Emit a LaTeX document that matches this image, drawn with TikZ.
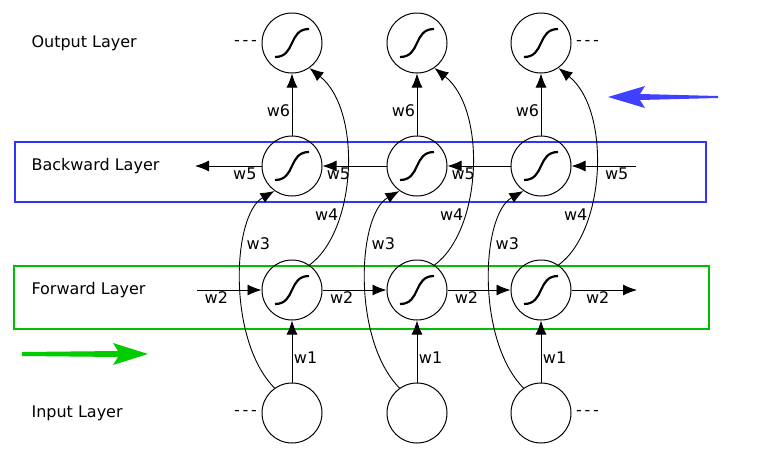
\documentclass[tikz,border=0pt]{standalone}
\usepackage{fontspec}
\setmainfont{DejaVu Sans}
\usetikzlibrary{arrows.meta}
\begin{document}
\begin{tikzpicture}[x=1pt,y=-1pt,
  neuron/.style={circle,draw,line width=1pt,minimum size=60pt,inner sep=0pt},
  arr/.style={line width=0.9pt,-{Latex[length=14pt,width=11pt]}},
  lbl/.style={font=\fontsize{16}{18}\selectfont},
  wl/.style={font=\fontsize{16}{18}\selectfont,inner sep=1.5pt},
  sig/.pic={\draw[line width=2.2pt] (-17,14) .. controls (4,14) and (-4,-14) .. (17,-14);}]
\useasboundingbox (0,0) rectangle (764,456);
\fill[white] (0,0) rectangle (764,456);
\draw[blue!80!white,line width=1.4pt] (15,142) rectangle (706,202);
\draw[green!75!black,line width=1.4pt] (14,266) rectangle (709,329);
\node[lbl,anchor=west] (tO) at (28,43) {Output Layer};
\node[lbl,anchor=west] (tB) at (28,166) {Backward Layer};
\node[lbl,anchor=west] (tF) at (28,290) {Forward Layer};
\node[lbl,anchor=west] (tI) at (28,413) {Input Layer};
\foreach \i/\x in {1/292,2/417,3/541}{
  \node[neuron] (o\i) at (\x,43) {}; \pic at (o\i) {sig};
  \node[neuron] (b\i) at (\x,166) {}; \pic at (b\i) {sig};
  \node[neuron] (f\i) at (\x,290) {}; \pic at (f\i) {sig};
  \node[neuron] (i\i) at (\x,413) {};
  \draw[arr] (b\i) -- node[wl,left,pos=0.4]{w6} (o\i);
  \draw[arr] (i\i) -- node[wl,right,pos=0.4]{w1} (f\i);
  \draw[arr] (i\i.125) .. controls (\x-65,340) and (\x-60,215) .. node[wl,pos=0.66,right]{w3} (b\i.235);
  \draw[arr] (f\i.55) .. controls (\x+65,230) and (\x+70,110) .. node[wl,pos=0.3,left]{w4} (o\i.305);
}
\coordinate (fin) at (197,290); \coordinate (fout) at (637,290);
\coordinate (bin) at (636,166); \coordinate (bout) at (195,166);
\draw[arr] (fin) -- node[wl,below,pos=0.3]{w2} (f1);
\draw[arr] (f1) -- node[wl,below,pos=0.3]{w2} (f2);
\draw[arr] (f2) -- node[wl,below,pos=0.3]{w2} (f3);
\draw[arr] (f3) -- node[wl,below,pos=0.4]{w2} (fout);
\draw[arr] (bin) -- node[wl,below,pos=0.3]{w5} (b3);
\draw[arr] (b3) -- node[wl,below,pos=0.75]{w5} (b2);
\draw[arr] (b2) -- node[wl,below,pos=0.75]{w5} (b1);
\draw[arr] (b1) -- node[wl,below,pos=0.25]{w5} (bout);
\foreach \n in {o1,i1}{\node[wl,anchor=east] (d\n) at ([xshift=-3pt]\n.west) {-\,-\,-};}
\foreach \n in {o3,i3}{\node[wl,anchor=west] (d\n) at ([xshift=3pt]\n.east) {-\,-\,-};}
\fill[blue!75!white] (608,97) -- (645,86) -- (640,94) -- (718,96) -- (718,98) -- (640,100) -- (645,108) -- cycle;
\fill[green!80!black] (148,354) -- (113,343) -- (118,351) -- (22,352) -- (22,356) -- (118,357) -- (113,365) -- cycle;
\end{tikzpicture}
\end{document}
